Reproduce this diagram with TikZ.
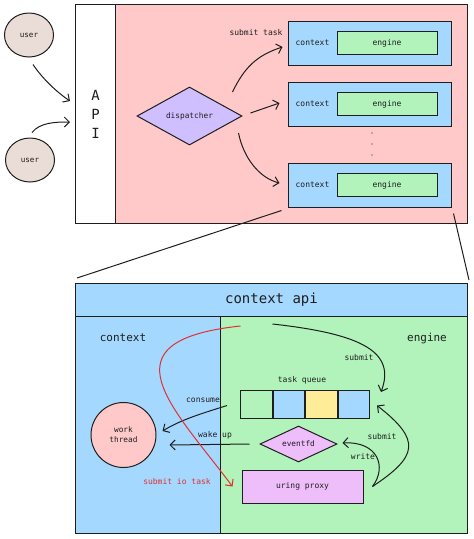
\documentclass[tikz,border=0pt]{standalone}
\usepackage{fontspec}
\setmainfont{DejaVu Sans Mono}
\usetikzlibrary{arrows.meta,shapes.geometric,calc}
\definecolor{Ink}{HTML}{1E1E1E}
\definecolor{Rose}{HTML}{FFC9C9}
\definecolor{Sky}{HTML}{A5D8FF}
\definecolor{Mint}{HTML}{B2F2BB}
\definecolor{Lilac}{HTML}{D0BFFF}
\definecolor{Orchid}{HTML}{EEBEFA}
\definecolor{Sand}{HTML}{EADDD7}
\definecolor{Butter}{HTML}{FFEC99}
\definecolor{Alert}{HTML}{E03131}

\begin{document}
\begin{tikzpicture}[x=1pt,y=-1pt,
  panel/.style={draw=Ink,line width=1pt,inner sep=0pt,anchor=north west,text=Ink},
  ctxbox/.style={draw=Ink,line width=1pt,fill=Sky,minimum width=163pt,minimum height=44pt,inner sep=0pt},
  engbox/.style={draw=Ink,line width=1pt,fill=Mint,minimum width=100pt,minimum height=23pt,inner sep=0pt,font=\fontsize{8}{9.5}\selectfont,text=Ink},
  userbox/.style={ellipse,draw=Ink,line width=1pt,fill=Sand,minimum width=49pt,minimum height=44pt,inner sep=0pt,font=\fontsize{7.6}{9}\selectfont,text=Ink},
  cell/.style={draw=Ink,line width=1pt,minimum width=31.5pt,minimum height=28pt,inner sep=0pt,anchor=north west},
  small/.style={font=\fontsize{8}{9.5}\selectfont,text=Ink,inner sep=1pt},
  big/.style={font=\fontsize{11}{13}\selectfont,text=Ink,inner sep=1pt},
  arrow/.style={-{Straight Barb[length=5pt,width=10pt]},line width=1pt,draw=Ink},
  zoomline/.style={line width=1pt,draw=Ink}
]
\useasboundingbox (0,0) rectangle (474,539);

% top: users, API and the contexts
\node[userbox] (u1) at (29,35) {user};
\node[userbox] (u2) at (30,160) {user};
\node[panel,fill=white,minimum width=40pt,minimum height=219pt,align=center,
  font=\fontsize{14}{19}\selectfont] (api) at (75,4) {A\\P\\I};
\node[panel,fill=Rose,minimum width=352pt,minimum height=219pt] (core) at (115,4) {};
\node[diamond,draw=Ink,line width=1pt,fill=Lilac,aspect=1.8,minimum width=105pt,minimum height=58pt,
  inner sep=0pt,font=\fontsize{7.8}{9}\selectfont,text=Ink] (disp) at (189.5,116) {dispatcher};

\node[ctxbox] (ctx1) at (369.5,43) {};
\node[ctxbox] (ctx2) at (369.5,104) {};
\node[ctxbox] (ctx3) at (369.5,185) {};
\node[engbox] (eng1) at ([xshift=17.5pt]ctx1.center) {engine};
\node[engbox] (eng2) at ([xshift=17.5pt]ctx2.center) {engine};
\node[engbox] (eng3) at ([xshift=17.5pt]ctx3.center) {engine};
\node[small] (ctxl1) at ([xshift=25pt]ctx1.west) {context};
\node[small] (ctxl2) at ([xshift=25pt]ctx2.west) {context};
\node[small] (ctxl3) at ([xshift=25pt]ctx3.west) {context};
\foreach \y in {133,144,155} \fill[Ink] (372,\y) circle (0.7pt);
\node[small] (subt) at (256,33) {submit task};

\draw[arrow] ([shift={(4,7)}]u1.south) .. controls +(10,15) and +(-12,-8) .. ([shift={(-5,-13)}]api.west);
\draw[arrow] ([shift={(2,-5)}]u2.north) .. controls +(8,-10) and +(-15,0) .. ([shift={(-5,8)}]api.west);
\draw[arrow] ([shift={(-10,-24)}]disp.east) .. controls +(12,-25) and +(-25,8) .. ([shift={(-5,4)}]ctx1.west);
\draw[arrow] ([shift={(8,-3)}]disp.east) -- ([shift={(-8,-1)}]ctx2.west);
\draw[arrow] ([shift={(-4,17)}]disp.east) .. controls +(5,25) and +(-20,-5) .. ([shift={(-8,-2)}]ctx3.west);

% bottom: one context in detail
\node[panel,fill=Sky,minimum width=392pt,minimum height=33pt,font=\fontsize{14}{16}\selectfont] (capi) at (75,283) {context api};
\node[panel,fill=Sky,minimum width=145pt,minimum height=217pt] (ctxr) at (75,316) {};
\node[panel,fill=Mint,minimum width=247pt,minimum height=217pt] (engr) at (220,316) {};
\node[big] (ctxl) at (123,338) {context};
\node[big] (engl) at (427,338) {engine};

\draw[zoomline] ([shift={(-6,3)}]ctx3.south west) -- ([shift={(2,-5)}]capi.north west);
\draw[zoomline] ([shift={(2,6)}]ctx3.south east) -- ([shift={(1,-3)}]capi.north east);

\node[circle,draw=Ink,line width=1pt,fill=Rose,minimum size=65pt,inner sep=0pt,align=center,
  font=\fontsize{7.8}{10}\selectfont,text=Ink] (wt) at (123.5,435) {work\\thread};

\node[cell] (q1) at (240,390) {};
\node[cell,fill=Sky] (q2) at (q1.north east) {};
\node[cell,fill=Butter] (q3) at (q2.north east) {};
\node[cell,fill=Sky] (q4) at (q3.north east) {};
\node[small] (tq) at (302,380) {task queue};

\node[diamond,draw=Ink,line width=1pt,fill=Orchid,aspect=2.1,minimum width=77pt,minimum height=36pt,
  inner sep=0pt,font=\fontsize{7.8}{9}\selectfont,text=Ink] (efd) at (298.5,444) {eventfd};
\node[draw=Ink,line width=1pt,fill=Orchid,minimum width=121pt,minimum height=33pt,inner sep=0pt,
  font=\fontsize{8}{9.5}\selectfont,text=Ink] (uring) at (302.5,486.5) {uring proxy};

\draw[arrow] ([shift={(1,7)}]capi.south) .. controls +(90,10) and +(15,-40) .. ([shift={(11,2)}]q4.north east);
\node[small] (subl1) at (359,358) {submit};
\draw[arrow] ([shift={(9,0)}]uring.east) .. controls +(45,-30) and +(45,35) .. ([shift={(7,1)}]q4.east);
\node[small] (subl2) at (382,437) {submit};
\draw[arrow] ([shift={(9,0)}]uring.east) .. controls +(15,-20) and +(35,-2) .. ([shift={(5,-1)}]efd.east);
\node[small] (wrl) at (363,457) {write};
\draw[arrow] ([shift={(-13,1)}]q1.west) .. controls +(-25,8) and +(20,-12) .. ([shift={(6,-4)}]wt.east);
\node[small] (cons) at (203,400) {consume};
\draw[arrow] ([shift={(-10,0)}]efd.west) -- ([shift={(13,10)}]wt.east);
\node[small] (wake) at (215,435) {wake up};
\draw[arrow,draw=Alert] ([shift={(-31,9)}]capi.south) .. controls +(-140,15) and +(-60,-80) .. ([shift={(-9,0)}]uring.west);
\node[small,text=Alert] (sio) at (177,482) {submit io task};
\end{tikzpicture}
\end{document}
